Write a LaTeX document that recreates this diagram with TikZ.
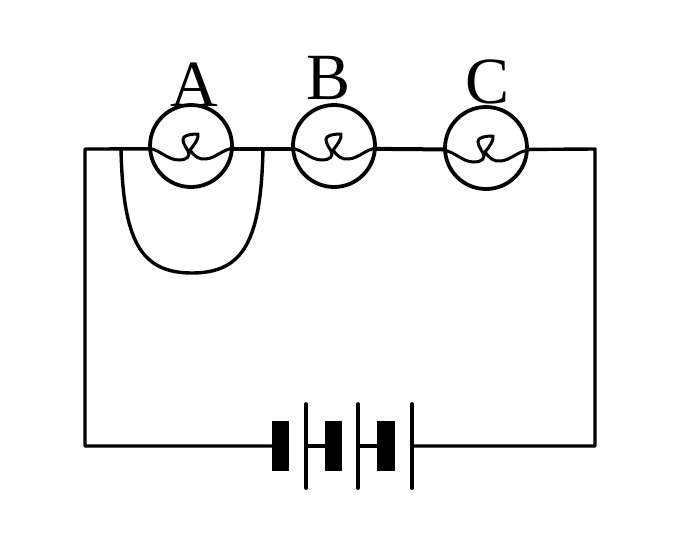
\documentclass[tikz,border=0pt]{standalone}
\usepackage{fontspec}
\setmainfont{Liberation Serif}
\tikzset{
 wire/.style={line width=3.4pt,line cap=round,line join=round},
 heavy/.style={line width=4pt,line cap=round},
 lamp/.style={circle,draw,line width=3.8pt,minimum size=82pt,inner sep=0pt,outer sep=0pt},
 lbl/.style={font=\fontsize{66}{66}\selectfont,inner sep=0pt,text=black},
 plate/.style={fill=black,draw=none,minimum width=17.5pt,minimum height=50pt,inner sep=0pt},
 thin plate/.style={line width=3.8pt,line cap=round}
}
\newcommand{\filament}[1]{%
 \draw[line width=3pt,line cap=round,line join=round,shift={(#1)}]
 (-43,2) .. controls (-30,4) and (-24,14) .. (-12,14)
 .. controls (-4,14) and (0,10) .. (-3,5)
 .. controls (-6,0) and (-10,-6) .. (-7,-9)
 .. controls (-3,-12) and (4,-12) .. (7,-12)
 .. controls (8,-7) and (3,-1) .. (-1,4)
 .. controls (3,10) and (8,14) .. (15,13)
 .. controls (25,12) and (32,3) .. (43,2);}
\begin{document}
\begin{tikzpicture}[x=1pt,y=-1pt]
\useasboundingbox[fill=white] (0,0) rectangle (700,538);
\node[lamp] (A) at (191,146) {};
\node[lamp] (B) at (334,146) {};
\node[lamp] (C) at (486,148) {};
\filament{191,146}
\filament{334,146}
\filament{486,148}
\node[lbl,anchor=base] (la) at (194,106) {A};
\node[lbl,anchor=base] (lb) at (329,99) {B};
\node[lbl,anchor=base] (lc) at (488,103) {C};
\coordinate (tl) at (85,149);
\coordinate (tr) at (595,149);
\coordinate (bl) at (85,446);
\coordinate (br) at (595,446);
\coordinate (s1) at (121,149);
\coordinate (s2) at (263,149);
\node[plate] (p1) at (280.5,446) {};
\node[plate] (p2) at (333.5,446) {};
\node[plate] (p3) at (386,446) {};
\coordinate (t1a) at (306,404); \coordinate (t1b) at (306,488);
\coordinate (t2a) at (358,404); \coordinate (t2b) at (358,488);
\coordinate (t3a) at (412,404); \coordinate (t3b) at (412,488);
\coordinate (t1) at (306,446); \coordinate (t2) at (358,446); \coordinate (t3) at (412,446);
\draw[wire] (A.184) -- (tl) -- (bl) -- (p1.west);
\draw[heavy] (A.-4) -- (B.184);
\draw[heavy] (B.-4) -- (C.182);
\draw[wire] (C.-2) -- (tr) -- (br) -- (t3);
\draw[wire] (t1) -- (p2.west);
\draw[wire] (t2) -- (p3.west);
\draw[thin plate] (t1a) -- (t1b);
\draw[thin plate] (t2a) -- (t2b);
\draw[thin plate] (t3a) -- (t3b);
\draw[wire] (s1) .. controls (123,240) and (140,273) .. (192,273)
 .. controls (244,273) and (261,240) .. (s2);
\end{tikzpicture}
\end{document}
